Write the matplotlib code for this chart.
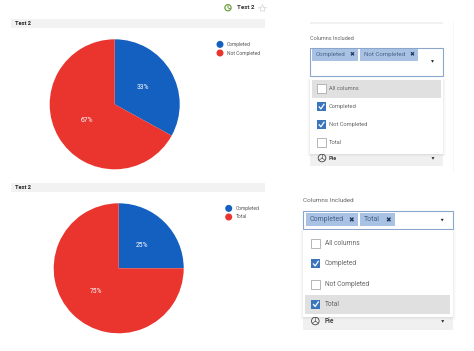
import matplotlib
matplotlib.use("Agg")
import matplotlib.pyplot as plt
from matplotlib.patches import Rectangle, Circle, RegularPolygon

W, H = 474, 351

title = "Test 2"
columns_label = "Columns Included"
chart_type = "Pie"
options = ["All columns", "Completed", "Not Completed", "Total"]

top_labels = ["Completed", "Not Completed"]
top_values = [33, 67]
top_checked = [False, True, True, False]
top_row_y = [88.7, 106.7, 124.6, 142.6]

bottom_labels = ["Completed", "Total"]
bottom_values = [25, 75]
bottom_checked = [False, True, False, True]
bottom_row_y = [243.3, 263.7, 284.0, 304.3]

pie_colors = ["#1360c0", "#ea342e"]


def rect(ax, x0, y0, x1, y1, **kw):
    kw.setdefault("linewidth", 0)
    ax.add_patch(Rectangle((x0, y0), x1 - x0, y1 - y0, **kw))


def draw_pie(fig, cx, cy, r, values):
    ax = fig.add_axes([(cx - r) / W, 1 - (cy + r) / H, 2 * r / W, 2 * r / H])
    ax.pie(values, colors=pie_colors, startangle=90, counterclock=False, radius=1.0,
           autopct="%d%%", pctdistance=0.5,
           textprops=dict(color="white", fontsize=4.9, family="Roboto"))
    ax.set_xlim(-1, 1)
    ax.set_ylim(-1, 1)
    ax.patch.set_alpha(0)


def draw_legend(ax, x, y0, labels):
    for i, lab in enumerate(labels):
        y = y0 + i * 8.6
        ax.add_patch(Circle((x, y), 3.5, color=pie_colors[i], linewidth=0))
        ax.text(x + 7, y, lab, fontsize=3.5, color="#555555", va="center", family="Roboto")


def draw_icon(ax, x, y):
    ax.add_patch(Circle((x, y), 3.8, fill=False, edgecolor="#444444", linewidth=0.6))
    ax.plot([x, x], [y - 3.8, y], color="#444444", linewidth=0.4)
    ax.plot([x, x + 3], [y, y + 2.3], color="#444444", linewidth=0.4)
    ax.plot([x, x - 3], [y, y + 2.3], color="#444444", linewidth=0.4)


def arrow(ax, x, y):
    # y axis is flipped here, so orientation 0 points down
    ax.add_patch(RegularPolygon((x, y), 3, radius=1.7, orientation=0, color="#222222", linewidth=0))


def draw_panel(ax, left, right, label_y, box, chips, drop, rows, checked, highlight,
               box_x, text_x, select_y, fs, arrow_y):
    ax.text(left, label_y, columns_label, fontsize=fs - 0.45, color="#666666", va="center", family="Roboto")
    rect(ax, left, box[0], right, box[1], facecolor="white", edgecolor="#8aa6cc", linewidth=0.8)
    for x0, x1, y0, y1, lab in chips:
        rect(ax, x0, y0, x1, y1, facecolor="#a9c1e3")
        ax.text(x0 + 3.5, (y0 + y1) / 2, lab, fontsize=fs, color="#46648c", va="center", family="Roboto")
        ax.text(x1 - 6.5, (y0 + y1) / 2, "\u2716", fontsize=fs - 0.2, color="#1d3557", va="center", ha="center",
                family="DejaVu Sans")
    arrow(ax, right - 10.5, arrow_y)

    # select under the dropdown
    rect(ax, left, select_y[0], right, select_y[1], facecolor="#f0f0f0")
    draw_icon(ax, left + 12, select_y[0] + 4)
    ax.text(text_x, select_y[0] + 4, chart_type, fontsize=fs - 0.3, fontweight="bold", color="#444444",
            va="center", family="Roboto")
    arrow(ax, right - 10, select_y[0] + 4)

    # dropdown with a soft shadow
    for grow, alpha in [(3, 0.012), (2, 0.02), (1, 0.03)]:
        rect(ax, left - grow, drop[0], right + grow, drop[1] + grow, facecolor="black", alpha=alpha)
    rect(ax, left, drop[0], right, drop[1], facecolor="white")
    rect(ax, highlight[0], highlight[1], highlight[2], highlight[3], facecolor="#e0e0e0")
    for y, lab, on in zip(rows, options, checked):
        if on:
            rect(ax, box_x, y - 4.5, box_x + 9, y + 4.5, facecolor="#3a74bd")
            ax.plot([box_x + 2.2, box_x + 3.9, box_x + 7], [y + 0.2, y + 2.2, y - 2.4], color="white", linewidth=0.9)
        else:
            rect(ax, box_x, y - 4.5, box_x + 9, y + 4.5, facecolor="white", edgecolor="#aaaaaa", linewidth=0.6)
        ax.text(text_x, y, lab, fontsize=fs - 0.25, color="#666666", va="center", family="Roboto")


def main():
    fig = plt.figure(figsize=(W / 100, H / 100), dpi=100, facecolor="white")
    ui = fig.add_axes([0, 0, 1, 1])
    ui.set_xlim(0, W)
    ui.set_ylim(H, 0)
    ui.axis("off")

    # header
    rect(ui, 0, 16.8, W, 17.4, facecolor="#f2f2f2")
    ui.add_patch(Circle((228, 7.7), 3.1, fill=False, edgecolor="#6aa23c", linewidth=0.9))
    ui.plot([228, 228, 230], [5.8, 7.9, 8.6], color="#3f6a22", linewidth=0.5)
    ui.text(237, 7.9, title, fontsize=4.4, fontweight="bold", color="#333333", va="center", family="Roboto")
    ui.plot([262], [7.9], marker="*", markersize=6, markerfacecolor="white", markeredgecolor="#d5d5d5",
            markeredgewidth=0.5)

    # chart title bands
    rect(ui, 11, 18.7, 265, 28, facecolor="#f2f2f2")
    ui.text(15.5, 23.6, title, fontsize=4.1, fontweight="bold", color="#222222", va="center", family="Roboto")
    rect(ui, 11, 183, 265, 192, facecolor="#f2f2f2")
    ui.text(15.5, 187.6, title, fontsize=4.1, fontweight="bold", color="#222222", va="center", family="Roboto")

    draw_legend(ui, 220, 44.4, top_labels)
    draw_legend(ui, 228.7, 208.4, bottom_labels)

    # right column
    rect(ui, 310, 22, 443, 24, facecolor="#f2f2f2")
    rect(ui, 453, 22, 453.6, 172, facecolor="#f6f6f6")

    draw_panel(ui, 310, 443, 38, (47.5, 75.5),
               [(312, 358, 48.5, 60.5, top_labels[0]), (360.5, 418, 48.5, 60.5, top_labels[1])],
               (79, 154), top_row_y, top_checked, (312, 80, 441, 97.7),
               317, 329, (154, 166), 4.4, 61)
    draw_panel(ui, 303.3, 452.7, 200, (210.7, 229.3),
               [(305.7, 357.7, 213.3, 226.3, bottom_labels[0]), (360, 394.7, 213.3, 226.3, bottom_labels[1])],
               (230.3, 316.7), bottom_row_y, bottom_checked, (305.3, 295, 450.3, 314.3),
               311.3, 325, (317, 330), 5.0, 219.7)

    draw_pie(fig, 114.7, 104.3, 65, top_values)
    draw_pie(fig, 118.7, 268.3, 65, bottom_values)

    fig.savefig("out.png", dpi=100)


if __name__ == "__main__":
    main()
